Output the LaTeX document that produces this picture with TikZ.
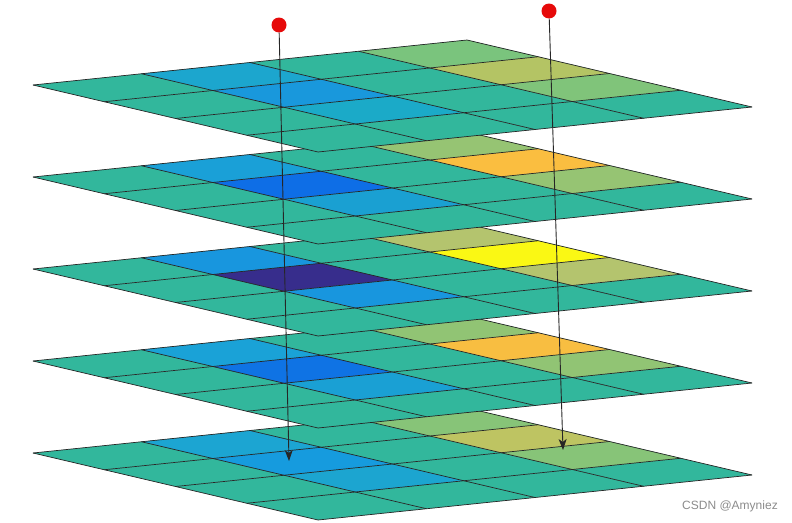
\documentclass[tikz,border=0pt]{standalone}
\usepackage{fontspec}
\setmainfont{Liberation Sans}
\usetikzlibrary{arrows.meta}
\definecolor{tealbase}{RGB}{50,183,156}
% layer 0
\definecolor{aA}{RGB}{28,166,206}
\definecolor{aB}{RGB}{25,152,220}
\definecolor{aC}{RGB}{27,170,200}
\definecolor{aD}{RGB}{122,196,125}
\definecolor{aE}{RGB}{180,196,100}
\definecolor{aF}{RGB}{128,196,122}
% layer 1
\definecolor{bA}{RGB}{26,160,215}
\definecolor{bB}{RGB}{14,110,230}
\definecolor{bC}{RGB}{26,160,210}
\definecolor{bD}{RGB}{150,196,115}
\definecolor{bE}{RGB}{250,190,64}
\definecolor{bF}{RGB}{150,196,115}
% layer 2
\definecolor{cA}{RGB}{24,150,222}
\definecolor{cB}{RGB}{55,45,140}
\definecolor{cC}{RGB}{24,150,222}
\definecolor{cD}{RGB}{180,196,110}
\definecolor{cE}{RGB}{250,248,20}
\definecolor{cF}{RGB}{180,196,110}
% layer 3
\definecolor{dA}{RGB}{26,162,215}
\definecolor{dB}{RGB}{15,115,228}
\definecolor{dC}{RGB}{26,160,212}
\definecolor{dD}{RGB}{145,196,116}
\definecolor{dE}{RGB}{248,190,65}
\definecolor{dF}{RGB}{145,196,116}
% layer 4
\definecolor{eA}{RGB}{28,165,210}
\definecolor{eB}{RGB}{22,155,222}
\definecolor{eC}{RGB}{28,165,208}
\definecolor{eD}{RGB}{135,196,120}
\definecolor{eE}{RGB}{190,196,98}
\definecolor{eF}{RGB}{135,196,120}
\definecolor{dotred}{RGB}{230,10,10}
\definecolor{wm}{RGB}{140,140,140}
\tikzset{
  gridline/.style={draw=black!85,line width=0.7pt},
  reddot/.style={circle,fill=dotred,inner sep=0pt,minimum size=15pt},
  droparrow/.style={draw=black!85,line width=0.9pt,-{Stealth[length=11pt,width=8pt,inset=3pt]}},
  watermark/.style={text=wm,font=\fontsize{12}{14}\selectfont,inner sep=0pt}
}
\newcommand\gp[3]{({33+108.5*(#1)+71.25*(#2)},{#3-11.25*(#1)+16.75*(#2)})}
\newcommand\cellfill[4]{\fill[#4] \gp{#1}{#2}{#3} -- \gp{#1+1}{#2}{#3} -- \gp{#1+1}{#2+1}{#3} -- \gp{#1}{#2+1}{#3} -- cycle;}
\newcommand\layerat[7]{%
  \foreach \ii in {0,...,3}{\foreach \jj in {0,...,3}{\cellfill{\ii}{\jj}{#1}{tealbase}}}
  \cellfill{1}{0}{#1}{#2}
  \cellfill{1}{1}{#1}{#3}
  \cellfill{1}{2}{#1}{#4}
  \cellfill{3}{0}{#1}{#5}
  \cellfill{3}{1}{#1}{#6}
  \cellfill{3}{2}{#1}{#7}
  \foreach \tt in {0,...,4}{
    \draw[gridline] \gp{\tt}{0}{#1} -- \gp{\tt}{4}{#1};
    \draw[gridline] \gp{0}{\tt}{#1} -- \gp{4}{\tt}{#1};
  }
}
\begin{document}
\begin{tikzpicture}[x=1pt,y=-1pt]
\useasboundingbox (0,0) rectangle (792,522);
\fill[white] (0,0) rectangle (792,522);
\layerat{453}{eA}{eB}{eC}{eD}{eE}{eF}
\layerat{361}{dA}{dB}{dC}{dD}{dE}{dF}
\layerat{269}{cA}{cB}{cC}{cD}{cE}{cF}
\layerat{177}{bA}{bB}{bC}{bD}{bE}{bF}
\layerat{85}{aA}{aB}{aC}{aD}{aE}{aF}
\node[reddot] (d1) at (279,25) {};
\node[reddot] (d2) at (549,11) {};
\coordinate (e1) at (289,461);
\coordinate (e2) at (563,450);
\draw[droparrow] (d1) -- (e1);
\draw[droparrow] (d2) -- (e2);
\node[watermark] (wmk) at (730,506) {CSDN @Amyniez};
\end{tikzpicture}
\end{document}
